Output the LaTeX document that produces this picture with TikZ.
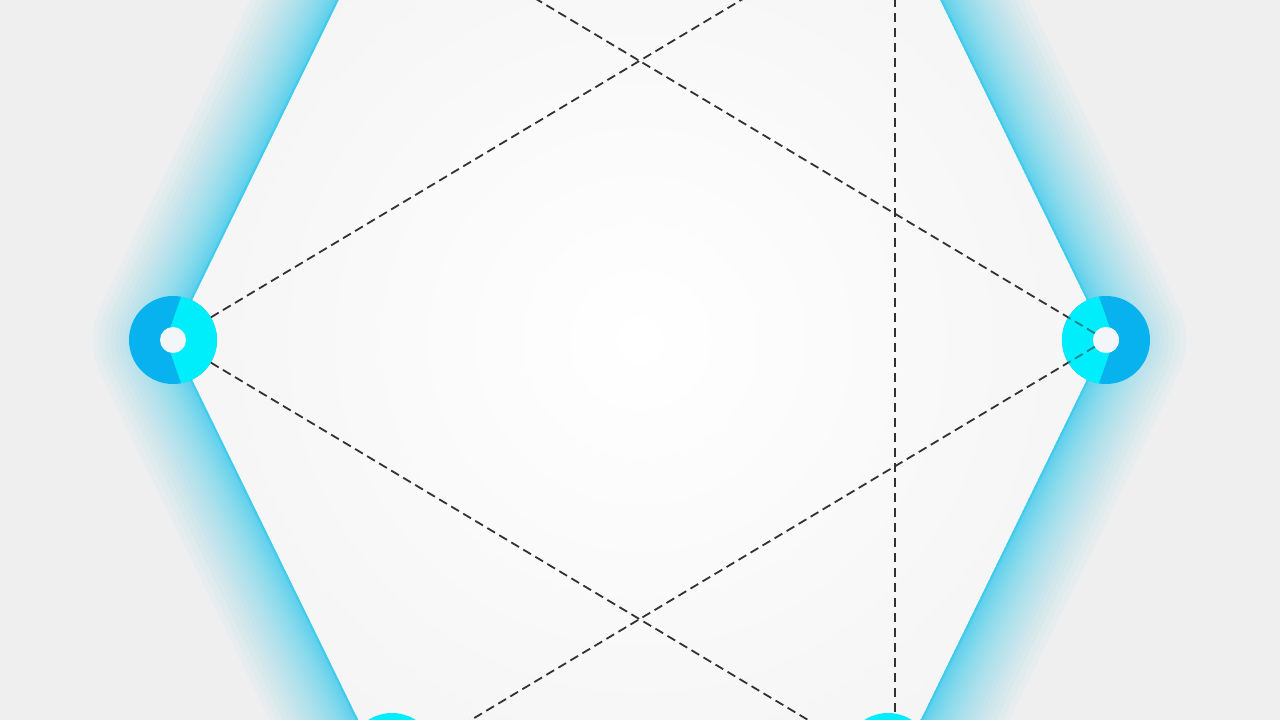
\documentclass[tikz,border=0pt]{standalone}
\usetikzlibrary{calc}
\definecolor{bg}{RGB}{239,239,239}
\definecolor{glowc}{RGB}{0,198,236}
\definecolor{hubdark}{RGB}{8,178,238}
\definecolor{hubcyan}{RGB}{0,238,252}
\definecolor{holec}{RGB}{242,246,248}
\definecolor{linkc}{RGB}{50,50,50}
\definecolor{hexedge}{RGB}{245,245,245}
\tikzset{
  hub/.style={circle, fill=hubdark, minimum size=88pt, inner sep=0pt, draw=none},
  hubtip/.style={circle, fill=hubcyan, minimum size=88pt, inner sep=0pt, draw=none},
  hole/.style={circle, fill=holec, minimum size=26pt, inner sep=0pt, draw=none},
  link/.style={draw=linkc, line width=1.8pt, dash pattern=on 9pt off 5pt},
  glow/.style={draw=glowc, line join=round, opacity=0.03},
}
\begin{document}
\begin{tikzpicture}[x=1pt,y=-1pt]
\useasboundingbox (0,0) rectangle (1280,720);
\clip (0,0) rectangle (1280,720);
\fill[bg] (0,0) rectangle (1280,720);
\coordinate (vL) at (173,340);
\coordinate (vR) at (1106,340);
\coordinate (vTL) at (384,-92);
\coordinate (vTR) at (895,-92);
\coordinate (vBL) at (384,772);
\coordinate (vBR) at (895,772);
\def\hex{(vL) -- (vTL) -- (vTR) -- (vR) -- (vBR) -- (vBL) -- cycle}
% glow
\foreach \w in {3,6,9,12,15,18,21,24,28,32,36,40,45,50,55,61,67,74,81,89,97,106,115,125,136,148,160} {\draw[glow, line width=\w pt] \hex;}
\draw[draw=glowc, line width=5pt, opacity=0.3, line join=round] \hex;
% interior
\begin{scope}
  \clip \hex;
  \fill[hexedge] \hex;
  \shade[inner color=white, outer color=hexedge] (640,340) circle[radius=470pt];
\end{scope}
% left hub
\node[hub] (L) at (vL) {};
\begin{scope}
  \clip (L) circle[radius=44pt];
  \fill[hubcyan] (166,340) -- (194,260) -- (260,260) -- (260,420) -- (194,420) -- cycle;
\end{scope}
\node[hole] (Lh) at (L) {};
% right hub
\node[hub] (R) at (vR) {};
\begin{scope}
  \clip (R) circle[radius=44pt];
  \fill[hubcyan] (1114,340) -- (1086,260) -- (1020,260) -- (1020,420) -- (1086,420) -- cycle;
\end{scope}
\node[hole] (Rh) at (R) {};
% links
\draw[link] (L) -- (vTR);
\draw[link] (L) -- (vBR);
\draw[link] (Rh) -- (vTL);
\draw[link] (Rh) -- (vBL);
\draw[link, dash pattern=on 9pt off 6pt] (vTR) -- (vBR);
% soften links over the right hub's cyan half
\begin{scope}
  \clip (R) circle[radius=44pt];
  \clip (1114,340) -- (1086,260) -- (1020,260) -- (1020,420) -- (1086,420) -- cycle;
  \fill[hubcyan, opacity=0.45] (R) circle[radius=44pt];
\end{scope}
\fill[holec] (Rh) circle[radius=13pt];
% bottom hubs
\node[hubtip] (BL) at (392,757) {};
\node[hubtip] (BR) at (888,757) {};
\end{tikzpicture}
\end{document}
